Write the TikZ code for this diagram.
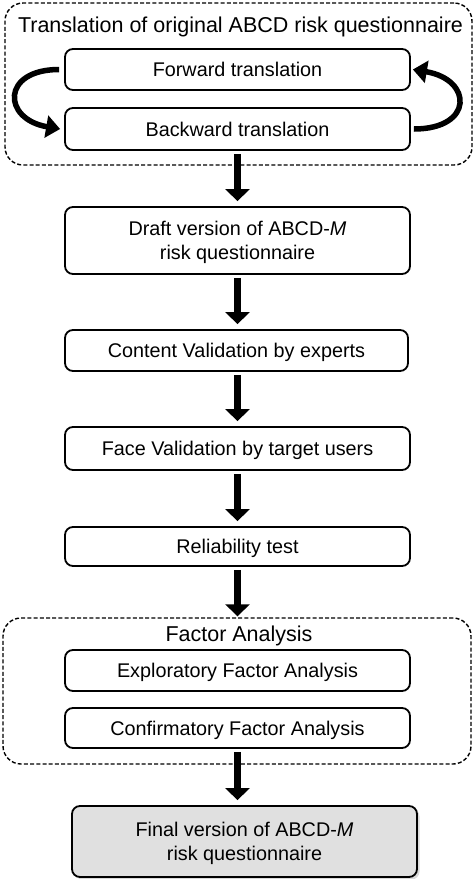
\documentclass[tikz,border=0pt]{standalone}
\usepackage{fontspec}
\setmainfont{Liberation Sans}
\usetikzlibrary{arrows.meta,shadows}
\begin{document}
\begin{tikzpicture}[x=1pt,y=-1pt,
  stepbox/.style={draw=black, line width=1.8pt, rounded corners=8pt, minimum width=345pt,
    inner sep=0pt, align=center, font=\fontsize{19.8}{24}\selectfont,
    text height=14.2pt, text depth=0pt},
  twoline/.style={text height=38.2pt, text depth=0pt},
  groupbox/.style={draw=black, line width=1.4pt, dash pattern=on 4pt off 2.2pt, rounded corners=18pt, inner sep=0pt},
  grouptitle/.style={inner sep=0pt, font=\fontsize{21.5}{26}\selectfont, text height=15.4pt, text depth=0pt},
  downarrow/.style={line width=7pt, -{Triangle[width=24pt,length=12pt]}, shorten <=3pt, shorten >=5pt},
  curvarrow/.style={line width=5.5pt, -{Triangle[width=22pt,length=14pt]}},
  finalbox/.style={stepbox, fill=black!12, drop shadow={shadow xshift=2.5pt, shadow yshift=-2.5pt, opacity=0.25, fill=black!60}}
]
\useasboundingbox (0,0) rectangle (474,879);

% group 1
\node[groupbox, minimum width=467pt, minimum height=162pt] (g1) at (238.5,84) {};
\node[grouptitle] (t1) at (240.5,24.5) {Translation of original ABCD risk questionnaire};
\node[stepbox, minimum height=41pt] (fwd) at (237.5,69.5) {Forward translation};
\node[stepbox, minimum height=42pt] (bwd) at (237.5,129) {Backward translation};

\draw[curvarrow] ([xshift=-5pt]fwd.west) .. controls +(-58,0) and +(-58,-10) .. ([xshift=-4pt]bwd.west);
\draw[curvarrow] ([xshift=3pt]bwd.east) .. controls +(60,0) and +(60,10) .. ([xshift=2pt]fwd.east);

\node[stepbox, twoline, minimum height=67pt] (draft) at (237.5,240.5) {Draft version of ABCD-\textit{M}\\risk questionnaire};
\node[stepbox, minimum height=41pt, minimum width=343pt] (content) at (236.5,350.5) {Content Validation by experts};
\node[stepbox, minimum height=43pt] (face) at (237.5,448.5) {Face Validation by target users};
\node[stepbox, minimum height=39pt] (rel) at (237.5,546.5) {Reliability test};

% group 2
\node[groupbox, minimum width=468pt, minimum height=146pt] (g2) at (237,691) {};
\node[grouptitle] (t2) at (239,634) {Factor Analysis};
\node[stepbox, minimum height=41pt] (efa) at (237.5,670.5) {Exploratory Factor Analysis};
\node[stepbox, minimum height=40pt] (cfa) at (237.5,728) {Confirmatory Factor Analysis};

\node[finalbox, twoline, minimum height=71pt] (final) at (244.5,841.5) {Final version of ABCD-\textit{M}\\risk questionnaire};

\draw[downarrow] (bwd.south) -- (draft.north);
\draw[downarrow] (draft.south) -- (content.north -| draft.south);
\draw[downarrow] (content.south -| draft.south) -- (face.north);
\draw[downarrow] (face.south) -- (rel.north);
\draw[downarrow, shorten >=1pt] (rel.south) -- (g2.north -| rel.south);
\draw[downarrow] (cfa.south) -- (final.north -| cfa.south);
\end{tikzpicture}
\end{document}
